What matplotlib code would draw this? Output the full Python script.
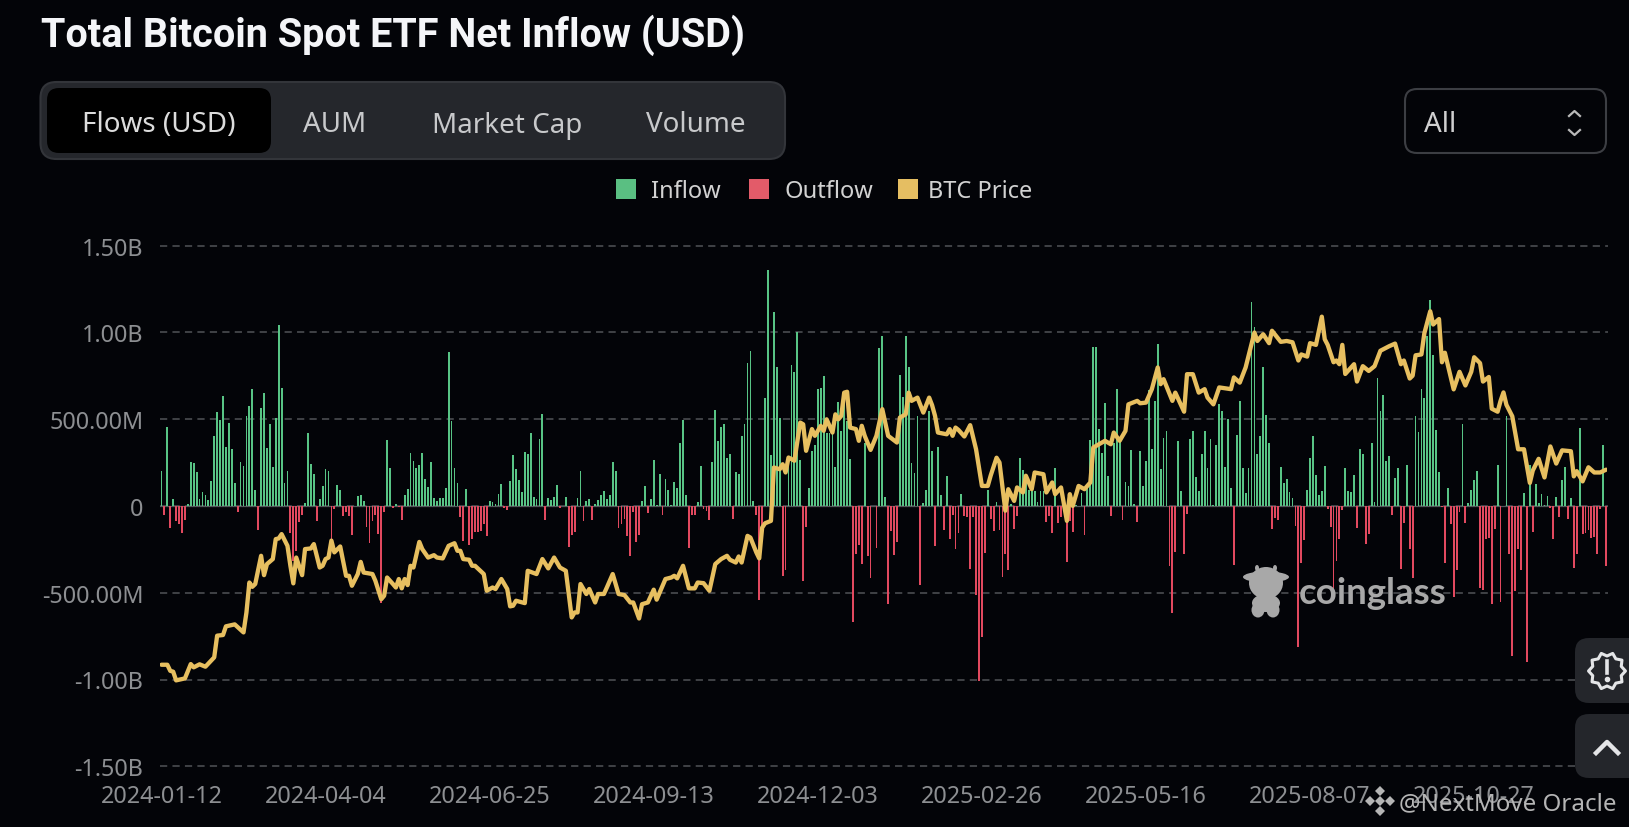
import numpy as np
import matplotlib
matplotlib.use('Agg')
import matplotlib.pyplot as plt
from matplotlib.patches import FancyBboxPatch, Ellipse, Polygon, Rectangle

# Net flow per trading day, millions of USD
flows = [
    203, -54, 452, -127, 42, -88, -107, -157, -79, 11,
    253, 245, 197, 38, 79, 65, 33, 146, 404, 540,
    493, 634, 339, 475, 328, 134, -36, 251, 232, 520,
    577, 673, 92, -140, 562, 648, 332, 474, 222, 504,
    1043, 682, 132, 199, -155, -318, -261, -94, -54, 15,
    418, 241, 182, -88, 40, 113, 213, 203, -197, -17,
    121, 90, -56, -36, -59, -165, -3, 59, 61, 29,
    -119, -215, -88, -50, -159, -558, -35, 380, 217, -13,
    12, -8, -84, 65, 100, 303, 257, 220, 236, 305,
    153, 107, 251, 44, 29, 48, 48, 105, 885, 487,
    217, 130, -65, -201, 100, -226, -190, -151, -151, -142,
    -107, -174, 31, 21, 11, 71, 128, -11, -21, 144,
    293, 215, 148, 79, 310, 301, 422, 54, 38, 383,
    529, -79, 44, 33, 52, 121, -13, 2, 50, -238,
    -167, -148, 44, 201, -88, 27, 38, -82, 12, 36,
    61, 86, 40, 65, 251, 199, -127, -104, -73, -174,
    -286, -36, -209, -169, 27, 117, -42, 38, 263, 8,
    186, -54, 157, 92, 4, 138, 105, 364, 495, 61,
    -242, -52, -54, 23, 232, -17, -31, -82, 253, 554,
    372, 456, 472, 274, 297, -77, 197, 186, 401, 472,
    826, 895, 31, -54, -542, -113, 621, 1359, 291, 1119,
    799, 506, -401, -370, 257, 813, 774, 1004, 266, -433,
    -121, 104, 318, 353, 675, 682, 746, 420, 420, 420,
    222, 596, 431, 611, 487, 272, -669, -276, -228, -337,
    362, -286, -414, -3, -242, 908, 978, 52, -567, -146,
    -284, -209, 753, 625, 976, 801, 247, 190, 516, -456,
    17, 92, 544, 318, -232, 339, 65, -140, 171, -188,
    -54, -251, -155, 67, -61, -63, -366, -63, -516, -1008,
    -753, -274, 94, -73, -142, 21, -136, -408, -276, -372,
    12, -134, -59, 274, 209, 180, 94, 84, 84, 23,
    88, 88, -92, -59, -157, 217, -98, -65, -3, -326,
    -88, -148, 3, 1, 75, -169, 113, 381, 914, 916,
    443, 305, 590, 172, -56, 362, 675, 381, -84, 140,
    117, 320, 12, -90, 318, 113, 261, 665, 330, 606,
    934, 211, 391, 433, -347, -615, -266, 376, 88, -278,
    -48, 385, 431, 165, 88, 301, 433, 217, 387, 8,
    351, 588, 546, 224, 500, 102, -341, 406, 602, 217,
    75, 217, 1175, 1029, 297, 403, 799, 521, 364, -132,
    -69, -84, 226, 130, 157, 81, 47, -116, -811, -327,
    -198, 91, 276, 400, 176, 64, 84, 229, -16, -122,
    -527, -316, -193, -22, 216, 87, 78, 176, -127, 329,
    298, -222, -160, 360, 22, 738, 549, 638, 256, 289,
    -51, 160, 218, -364, -100, 238, -251, -416, 516, 427,
    671, 624, 980, 1184, 869, 438, 193, -4, -327, 102,
    -104, -527, -367, -38, 471, -100, 16, 91, 147, 200,
    -471, -487, -189, -187, -564, -133, 238, -556, -2, 520,
    -276, -862, -493, -251, -371, 73, -898, 236, -151, 127,
    18, 67, 7, 56, -13, -193, 53, -62, 149, 222,
    -78, 47, -356, -276, 451, -160, -156, -138, -187, -178,
    -276, -20, 353, -344,
]

# BTC price line: bar index of each reading and the price there
price_idx = [
    0, 2, 3, 4, 5, 8, 10, 11, 13, 15, 18, 19, 21, 22, 25, 28, 29, 30, 31, 32,
    34, 35, 36, 38, 39, 40, 41, 43, 44, 45, 46, 48, 49, 51, 52, 54, 55, 56, 57, 58,
    59, 61, 63, 64, 65, 67, 68, 69, 72, 73, 75, 76, 77, 79, 80, 81, 82, 83, 84, 85,
    86, 88, 89, 91, 93, 94, 96, 98, 100, 101, 102, 103, 105, 106, 107, 110, 111, 113, 114, 116,
    118, 119, 120, 121, 124, 125, 128, 130, 132, 134, 136, 138, 140, 141, 142, 143, 145, 146, 148, 149,
    151, 152, 154, 156, 158, 160, 161, 163, 164, 166, 168, 169, 172, 174, 175, 176, 178, 180, 182, 183,
    185, 187, 189, 191, 193, 194, 196, 197, 198, 200, 201, 203, 204, 205, 206, 208, 209, 211, 212, 213,
    214, 216, 218, 219, 220, 222, 223, 225, 226, 227, 229, 230, 231, 232, 233, 234, 235, 237, 238, 239,
    240, 242, 244, 245, 246, 248, 251, 252, 254, 255, 256, 258, 260, 262, 263, 264, 265, 268,
    269, 270, 271, 272, 274, 276, 278, 280, 282, 283, 285, 286, 288, 289, 291, 292, 294, 295, 297, 298,
    301, 302, 304, 305, 307, 309, 310, 311, 313, 315, 317, 318, 322, 324, 325, 327, 329, 330, 333, 334,
    336, 338, 340, 341, 342, 345, 346, 349, 350, 352, 354, 356, 357, 359, 361, 365, 366, 368, 370, 373,
    374, 376, 378, 379, 382, 384,
    386, 388, 389, 391, 392, 394, 396, 397, 398, 400, 401, 402, 403, 404, 407, 408, 410, 412, 414, 416,
    419, 421, 423, 424, 426, 427, 428, 430, 431, 433, 434, 436, 437, 438, 441, 443, 445, 447, 448, 450,
    451, 453, 454, 456, 457, 458, 459, 461, 463, 465, 467, 468, 470, 472, 474, 476, 478, 481, 482, 483,
    485, 487, 489, 491, 493,
]
price = [
    43400, 43400, 42000, 41800, 39800, 40250, 43550, 42800, 43500, 42950, 45100, 50100, 50250, 52250, 52700, 50850, 55450, 62350, 61350, 62000,
    68500, 64050, 66600, 67750, 72350, 72500, 73500, 70800, 66200, 62150, 68100, 64050, 70050, 70200, 71200, 65800, 66200, 67750, 68100, 72000,
    69300, 70650, 63900, 63900, 61600, 64300, 67100, 64650, 64300, 62750, 58500, 59300, 63500, 62000, 61200, 63150, 61000, 63150, 61750, 66200,
    65800, 71700, 70050, 68100, 68650, 68100, 67900, 70800, 71400, 69650, 69650, 67750, 67600, 66200, 66200, 64300, 60450, 61200, 60850, 63150,
    60850, 56850, 57000, 58150, 57600, 65050, 64300, 67750, 65600, 68100, 65800, 65050, 54300, 55450, 55450, 62000, 59700, 60850, 57750, 59700,
    59700, 61200, 64300, 59700, 59450, 57750, 57750, 54050, 57350, 57750, 60700, 58400, 63150, 63500, 63900, 63300, 66200, 61000, 61000, 62350,
    62200, 60450, 66600, 67750, 68500, 67600, 66950, 68350, 66950, 73100, 72700, 69300, 67900, 75000, 76000, 76550, 88850, 88450, 89600, 87700,
    91150, 90400, 99200, 98800, 92700, 97700, 96150, 98450, 97300, 99950, 96900, 101100, 99950, 100750, 106100, 106300, 98050, 97700, 95000, 98450,
    96150, 92900, 96150, 99200, 102300, 96150, 94600, 100350, 101100, 106100, 104200, 104950, 101500, 104950, 103200, 100750, 96900, 96500,
    97700, 96150, 98050, 97500, 95990, 98600, 93050, 84600, 84600, 87000, 91100, 90000, 78900, 83850, 81150, 84250, 83100, 86950, 83850, 87700,
    87300, 83100, 85400, 82700, 84250, 76550, 82700, 80000, 84600, 83850, 85400, 93450, 95000, 94200, 96900, 95000, 97300, 103400, 104200, 103650,
    103800, 106900, 111900, 108050, 109200, 104200, 106100, 101700, 110350, 110350, 106100, 106900, 104950, 103400, 107300, 106900, 109600, 108400, 111900, 119950,
    118000, 119550, 117500, 120350, 117800, 118000,
    117700, 113500, 114900, 114400, 117500, 117100, 123600, 118400, 117100, 113100, 113500, 112650, 117100, 110400, 112650, 108650, 112200, 111100, 112200, 115750,
    116800, 117400, 112650, 113500, 109350, 110000, 114700, 114900, 119800, 124850, 121800, 123050, 113100, 115300, 106850, 110900, 107750, 110900, 114250, 112900,
    108650, 109700, 102400, 101700, 104200, 106150, 103300, 100650, 93050, 93050, 85300, 88150, 90850, 86550, 93700, 89750, 92800, 92600, 86800, 88000,
    85650, 88900, 87700, 87700, 88350,
]

x_ticks = [0, 56, 112, 168, 224, 280, 336, 392, 448]
x_labels = ['2024-01-12', '2024-04-04', '2024-06-25', '2024-09-13', '2024-12-03',
            '2025-02-26', '2025-05-16', '2025-08-07', '2025-10-27']
y_ticks = [1500, 1000, 500, 0, -500, -1000, -1500]
y_labels = ['1.50B', '1.00B', '500.00M', '0', '-500.00M', '-1.00B', '-1.50B']
tabs = ['Flows (USD)', 'AUM', 'Market Cap', 'Volume']

BG = '#030408'
GREEN = '#58C485'
RED = '#E2495F'
GOLD = '#E7BF60'
W, H = 1629, 828
FONT = 'Noto Sans'

fig = plt.figure(figsize=(W / 100, H / 100), dpi=100, facecolor=BG)

# main chart, axes edges placed on the pixel rows of the +-1.5B grid lines
ax = fig.add_axes([160 / W, 1 - 767.3 / H, 1447.5 / W, 520.8 / H], facecolor='none')
flows = np.array(flows)
idx = np.arange(len(flows))
up = flows >= 0
ax.bar(idx[up], flows[up], width=0.62, color=GREEN, zorder=3)
ax.bar(idx[~up], flows[~up], width=0.62, color=RED, zorder=3)
ax.axhline(0, color='#55585c', lw=0.9, zorder=2)
ax.set_xlim(-0.5, 493.5)
ax.set_ylim(-1500, 1500)
ax.set_xticks(x_ticks, x_labels, fontsize=16.8, color='#8d8f92', family=FONT)
ax.set_yticks(y_ticks, y_labels, fontsize=16.8, color='#8d8f92', family=FONT)
for lab in ax.get_yticklabels():
    lab.set_verticalalignment('center_baseline')
ax.tick_params(length=0)
ax.tick_params(axis='x', pad=13)
ax.tick_params(axis='y', pad=12)
ax.yaxis.grid(True, color='#45474b', lw=1.3, linestyle=(0, (4.0, 2.9)), zorder=1)
for line in ax.get_ygridlines():
    line.set_clip_on(False)
for s in ax.spines.values():
    s.set_visible(False)

# BTC price on its own hidden axis
ax2 = ax.twinx()
ax2.plot(price_idx, price, color=GOLD, lw=3.1, solid_joinstyle='round', solid_capstyle='round')
ax2.set_ylim(20000, 140000)
ax2.axis('off')

# page furniture, in pixel coordinates
ui = fig.add_axes([0, 0, 1, 1], facecolor='none')
ui.set_xlim(0, W)
ui.set_ylim(H, 0)
ui.axis('off')


def rbox(x0, y0, x1, y1, r, fc, ec='none', lw=0):
    ui.add_patch(FancyBboxPatch((x0 + r, y0 + r), x1 - x0 - 2 * r, y1 - y0 - 2 * r,
                                boxstyle=f'round,pad={r},rounding_size={r}',
                                fc=fc, ec=ec, lw=lw, clip_on=False))


ui.text(41, 35, 'Total Bitcoin Spot ETF Net Inflow (USD)', fontsize=28.5, fontweight='bold',
        color='#f4f5f8', family='Roboto', va='center', ha='left')

rbox(40.5, 83, 785, 160, 16, '#25272c', ec='#33353a', lw=1.5)
rbox(47, 89, 271, 154, 12, '#000000')
for label, cx, col in zip(tabs, [159, 335, 507, 696], ['#dcdcdc', '#c8c9cb', '#c8c9cb', '#c8c9cb']):
    ui.text(cx, 125.5, label, fontsize=20, color=col, family=FONT, ha='center', va='center')

rbox(1405, 90, 1606, 154, 12, BG, ec='#3c3e43', lw=1.5)
ui.text(1424, 125.5, 'All', fontsize=20, color='#d0d0d0', family=FONT, ha='left', va='center')
ui.plot([1569, 1574.5, 1580], [117, 112, 117], color='#b9b9b9', lw=1.6)
ui.plot([1569, 1574.5, 1580], [131, 136, 131], color='#b9b9b9', lw=1.6)

for x, lab_x, col, lab in [(616, 651.5, '#5ABF82', 'Inflow'), (749, 784.5, '#E35B69', 'Outflow'),
                           (898, 928, '#E5BE62', 'BTC Price')]:
    ui.add_patch(Rectangle((x, 180), 20, 19.5, fc=col, ec='none'))
    ui.text(lab_x, 192, lab, fontsize=17, color='#d2d2d2', family=FONT, ha='left', va='center')

# coinglass mascot and wordmark
wm = '#a8a8a8'
for xy, w, h in [((1266, 584), 34, 32), ((1266, 578), 46, 11), ((1266, 604), 28, 18),
                 ((1258, 611), 13, 15), ((1273, 611), 13, 15), ((1257, 569), 4, 6), ((1275, 569), 4, 6)]:
    ui.add_patch(Ellipse(xy, w, h, fc=wm, ec='none'))
ui.text(1299, 594, 'coinglass', fontsize=26.4, fontweight='bold', color=wm, family='Lato', ha='left', va='center')

# side buttons
rbox(1575, 639, 1660, 704, 14, '#24262b')
rbox(1575, 715, 1660, 779, 14, '#24262b')
ang = np.linspace(0, 2 * np.pi, 21)[:-1]
rad = np.where(np.arange(20) % 2 == 0, 18.5, 15)
ui.add_patch(Polygon(np.c_[1607 + rad * np.cos(ang), 672 + rad * np.sin(ang)], closed=True,
                     fc='none', ec='#e4e5e7', lw=2.2, joinstyle='round'))
ui.plot([1607, 1607], [662, 674], color='#e4e5e7', lw=2.6)
ui.plot([1607], [680], 'o', color='#e4e5e7', ms=3)
ui.plot([1596, 1607, 1618], [754, 743, 754], color='#e4e5e7', lw=3.2)

# Binance repost tag
for dx, dy in [(0, -10), (-10, 0), (10, 0), (0, 10), (0, 0)]:
    ui.plot([1380 + dx], [802 + dy], 'D', color='#b5b5b5', ms=5.2, mew=0)
ui.text(1399, 804, '@NextMove Oracle', fontsize=17.3, color='#b5b5b5', family=FONT, ha='left', va='center')

fig.savefig('out.png', dpi=100, facecolor=BG)
